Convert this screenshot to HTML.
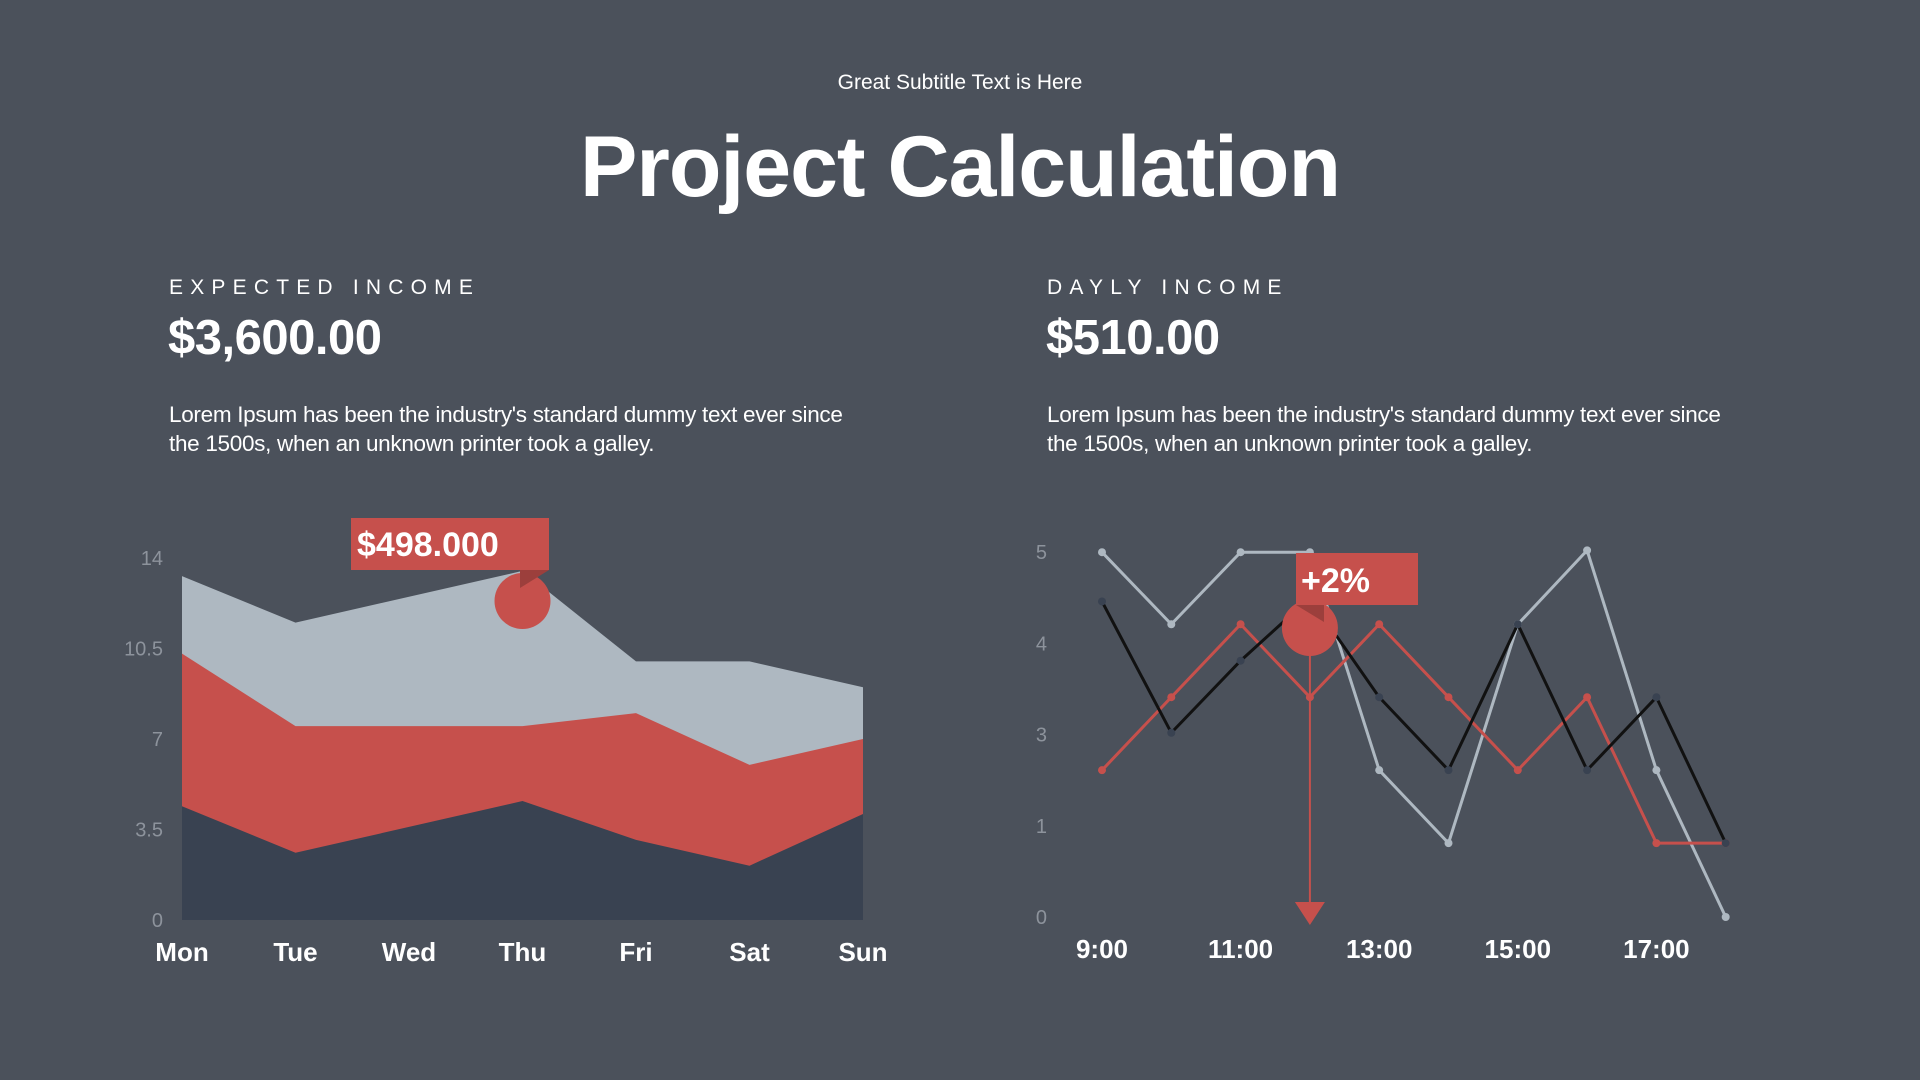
<!DOCTYPE html>
<html><head><meta charset="utf-8"><style>
html,body{margin:0;padding:0;background:#4b515b;}
body{width:1920px;height:1080px;position:relative;overflow:hidden;font-family:"Liberation Sans",sans-serif;color:#fff;}
.abs{position:absolute;white-space:nowrap;}
.sub{left:0;width:1920px;text-align:center;top:71px;font-size:21px;}
.title{left:0;width:1920px;text-align:center;top:118px;font-size:86px;font-weight:bold;letter-spacing:-1px;}
.cap{font-size:21px;letter-spacing:7.2px;top:276px;}
.big{font-size:49px;font-weight:bold;top:310px;letter-spacing:-0.5px;}
.para{font-size:22.5px;line-height:29px;top:400px;}
svg{position:absolute;left:0;top:0;}
</style></head><body>
<div class="abs sub">Great Subtitle Text is Here</div>
<div class="abs title">Project Calculation</div>
<div class="abs cap" style="left:169px">EXPECTED INCOME</div>
<div class="abs big" style="left:168px">$3,600.00</div>
<div class="abs para" style="left:169px;letter-spacing:-0.3px">Lorem Ipsum has been the industry's standard dummy text ever since<br>the 1500s, when an unknown printer took a galley.</div>
<div class="abs cap" style="left:1047px">DAYLY INCOME</div>
<div class="abs big" style="left:1046px">$510.00</div>
<div class="abs para" style="left:1047px;letter-spacing:-0.3px">Lorem Ipsum has been the industry's standard dummy text ever since<br>the 1500s, when an unknown printer took a galley.</div>
<svg id="chart" width="1920" height="1080"></svg>
<script>
// Area chart data
const days = ["Mon","Tue","Wed","Thu","Fri","Sat","Sun"];
const areaTop = [13.3,11.5,12.5,13.5,10,10,9.0];
const areaMid = [10.3,7.5,7.5,7.5,8.0,6.0,7.0];
const areaLow = [4.4,2.6,3.6,4.6,3.1,2.1,4.1];
const areaTicks = [0,3.5,7,10.5,14];
// Line chart data (values in grid-step units)
const hours = ["9:00","10:00","11:00","12:00","13:00","14:00","15:00","16:00","17:00","18:00"];
const hourLabels = ["9:00","11:00","13:00","15:00","17:00"];
const lineGrey = [4,3.21,4,4,1.61,0.81,3.21,4.02,1.61,0];
const lineBlack = [3.46,2.02,2.81,3.5,2.41,1.61,3.21,1.61,2.41,0.81];
const lineRed = [1.61,2.41,3.21,2.41,3.21,2.41,1.61,2.41,0.81,0.81];
const lineTickLabels = ["0","1","3","4","5"];

const NS="http://www.w3.org/2000/svg";
const svg=document.getElementById('chart');
function mk(tag,attrs,parent){const e=document.createElementNS(NS,tag);for(const k in attrs)e.setAttribute(k,attrs[k]);(parent||svg).appendChild(e);return e;}

// Area chart axes
const ax=i=>182+i*(863-182)/(days.length-1);
const ay=v=>920-v*(920-558)/14;
function areaPath(vals){let d="M"+ax(0)+","+ay(0);vals.forEach((v,i)=>d+=" L"+ax(i)+","+ay(v));d+=" L"+ax(vals.length-1)+","+ay(0)+" Z";return d;}
let p;
p=mk('path',{d:areaPath(areaTop),fill:'#aeb8c1'});


p=mk('path',{d:areaPath(areaMid),fill:'#c6504c'});


p=mk('path',{d:areaPath(areaLow),fill:'#394251'});


areaTicks.forEach(t=>{const e=mk('text',{x:163,y:ay(t)+7,'text-anchor':'end','font-size':20,fill:'#8d939c'});e.textContent=String(t);

});
days.forEach((d,i)=>{const e=mk('text',{x:ax(i),y:961,'text-anchor':'middle','font-size':26,'font-weight':'bold',fill:'#fff'});e.textContent=d;

});
// callout
let c=mk('circle',{cx:ax(3),cy:601,r:28,fill:'#c6504c'});


let r=mk('rect',{x:351,y:518,width:198,height:52,fill:'#c6504c'});


let f=mk('polygon',{points:"520,570 549,570 520,588",fill:'#9c3f3c'});


let t=mk('text',{x:357,y:556,'font-size':34,'font-weight':'bold',fill:'#fff'});t.textContent="$498.000";



// Line chart axes
const lx=i=>1102+i*69.3;
const ly=v=>917-v*91.2;
lineTickLabels.forEach((l,i)=>{const e=mk('text',{x:1047,y:ly(i)+7,'text-anchor':'end','font-size':20,fill:'#8d939c'});e.textContent=l;

});
hourLabels.forEach((h,i)=>{const e=mk('text',{x:lx(i*2),y:958,'text-anchor':'middle','font-size':26,'font-weight':'bold',fill:'#fff'});e.textContent=h;

});
function drawLine(vals,color,dot,name){
  const pts=vals.map((v,i)=>lx(i)+","+ly(v)).join(" ");
  const pl=mk('polyline',{points:pts,fill:'none',stroke:color,'stroke-width':3});
  
  
  vals.forEach((v,i)=>{const d=mk('circle',{cx:lx(i),cy:ly(v),r:4,fill:dot});
  
  });
}
drawLine(lineGrey,'#aeb8c1','#aeb8c1','grey-line');
drawLine(lineRed,'#c6504c','#c6504c','red-line');
drawLine(lineBlack,'#111111','#394251','black-line');
// callout
let ln=mk('line',{x1:lx(3),y1:628,x2:lx(3),y2:905,stroke:'#c6504c','stroke-width':2});


let tri=mk('polygon',{points:(lx(3)-15)+",902 "+(lx(3)+15)+",902 "+lx(3)+",925",fill:'#c6504c'});


let c2=mk('circle',{cx:lx(3),cy:628,r:28,fill:'#c6504c'});


let r2=mk('rect',{x:1296,y:553,width:122,height:52,fill:'#c6504c'});


let f2=mk('polygon',{points:"1296,605 1324,605 1324,622",fill:'#9c3f3c'});


let t2=mk('text',{x:1301,y:592,'font-size':34,'font-weight':'bold',fill:'#fff'});t2.textContent="+2%";


</script>
</body></html>
